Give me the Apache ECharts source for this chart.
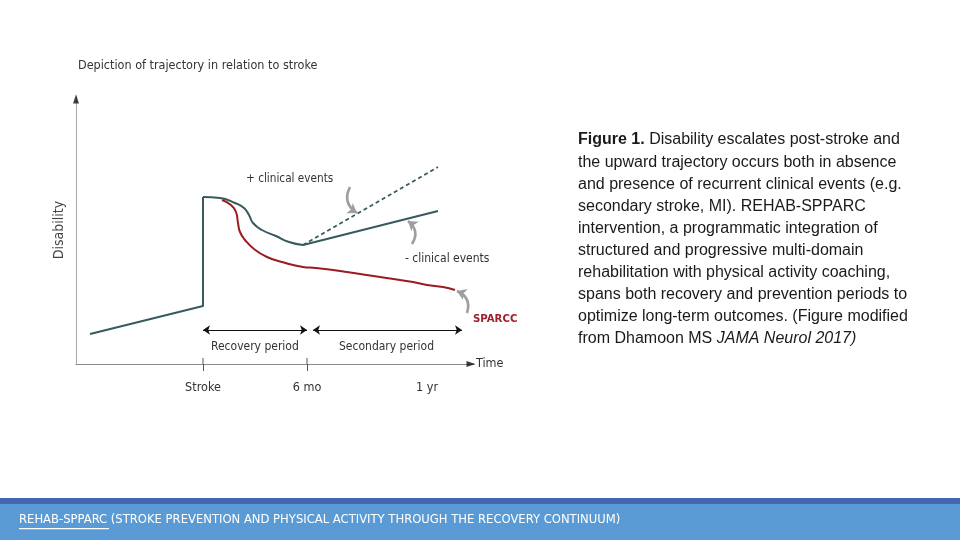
<!DOCTYPE html>
<html>
<head>
<meta charset="utf-8">
<script src="https://cdn.jsdelivr.net/npm/echarts@6/dist/echarts.min.js"></script>
<style>
html,body{margin:0;padding:0;background:#fff;}
#chart{width:960px;height:540px;}
</style>
</head>
<body>
<div id="chart"></div>
<script>
// ---- Data (x: time units, y: disability units) ----
var preStroke = [[14, 30], [127, 58], [127, 167]];
var postStrokeCurve = [[127, 167], [144, 166], [159, 161], [168, 156], [173, 149], [177, 141], [186, 134], [200, 128], [213, 122], [227, 119]];
var noEventsLine = [[227, 119], [362, 153]];
var eventsLine = [[227, 119], [362, 197]];
var sparccCurve = [[146, 164], [155, 159], [160, 152], [162, 141], [164, 132], [169, 124], [178, 115], [191, 107], [206, 102], [227, 97], [240, 96], [271, 92], [304, 87], [337, 82], [351, 79], [367, 77], [379, 74]];
var tickValues = [127, 231];
var tickLabelValues = [127, 231, 351];
var tickLabels = ['Stroke', '6 mo', '1 yr'];
var periodArrows = [
  { name: 'Recovery period', from: [127, 34], to: [231, 34] },
  { name: 'Secondary period', from: [237, 34], to: [386, 34] }
];
var pointerArrows = [
  { from: [274, 177], to: [281, 151], curve: -0.45 },
  { from: [336, 120], to: [332, 143], curve: -0.45 },
  { from: [391, 51], to: [381, 73], curve: -0.45 }
];

var TEAL = '#37595f';
var RED = '#9b1b1f';
var NARROW = '"DejaVu Sans Condensed", "Liberation Sans Narrow", sans-serif';

var tickSegments = [];
tickValues.forEach(function (v) { tickSegments.push([v, 0], [v, 6], null); });

var chart = echarts.init(document.getElementById('chart'), null, { renderer: 'canvas' });

var option = {
  animation: false,
  backgroundColor: '#ffffff',
  grid: { left: 76, top: 96, width: 398, height: 268, containLabel: false },
  xAxis: {
    type: 'value', min: 0, max: 398,
    name: 'Time', nameLocation: 'end', nameGap: 2,
    nameTextStyle: { fontFamily: NARROW, fontSize: 12.5, color: '#333', verticalAlign: 'middle', align: 'left' },
    axisLine: { show: true, lineStyle: { color: '#8a8a8a', width: 1 }, symbol: ['none', 'none'] },
    axisTick: { show: true, length: 7, lineStyle: { color: '#555' }, customValues: tickValues },
    axisLabel: {
      show: true, margin: 17, customValues: tickLabelValues,
      fontFamily: NARROW, fontSize: 12.5, color: '#333',
      formatter: function (v) { var i = tickLabelValues.indexOf(v); return i >= 0 ? tickLabels[i] : ''; }
    },
    splitLine: { show: false }
  },
  yAxis: {
    type: 'value', min: 0, max: 268,
    name: 'Disability', nameLocation: 'middle', nameGap: 10, nameRotate: 90,
    nameTextStyle: { fontFamily: NARROW, fontSize: 14, color: '#444' },
    axisLine: { show: true, lineStyle: { color: '#a8a8a8', width: 1 }, symbol: ['none', 'none'] },
    axisTick: { show: false }, axisLabel: { show: false }, splitLine: { show: false }
  },
  series: [
    { type: 'line', name: 'pre', data: preStroke, showSymbol: false, lineStyle: { color: TEAL, width: 2 }, silent: true },
    { type: 'line', name: 'curve', data: postStrokeCurve, smooth: 0.5, showSymbol: false, lineStyle: { color: TEAL, width: 2 }, silent: true },
    { type: 'line', name: '- clinical events', data: noEventsLine, showSymbol: false, lineStyle: { color: TEAL, width: 2 }, silent: true },
    { type: 'line', name: '+ clinical events', data: eventsLine, showSymbol: false, lineStyle: { color: TEAL, width: 1.8, type: [4, 3] }, silent: true },
    { type: 'line', name: 'SPARCC', data: sparccCurve, smooth: 0.5, showSymbol: false, lineStyle: { color: RED, width: 2 }, silent: true },
    { type: 'line', name: 'ticksUp', data: tickSegments, connectNulls: false, showSymbol: false, lineStyle: { color: '#555', width: 1 }, silent: true },
    {
      type: 'scatter', name: 'axisArrows', clip: false, silent: true,
      itemStyle: { color: '#111' },
      data: [
        { value: [0, 265], symbol: 'triangle', symbolSize: [6, 9], symbolRotate: 0 },
        { value: [395, 0], symbol: 'triangle', symbolSize: [6, 9], symbolRotate: -90 }
      ]
    },
    {
      type: 'lines', coordinateSystem: 'cartesian2d', silent: true,
      symbol: ['arrow', 'arrow'], symbolSize: 7,
      lineStyle: { color: '#111', width: 1, curveness: 0, opacity: 1 },
      data: periodArrows.map(function (a) { return { coords: [a.from, a.to] }; })
    },
    {
      type: 'lines', coordinateSystem: 'cartesian2d', silent: true,
      symbol: ['none', 'arrow'], symbolSize: 9,
      lineStyle: { color: '#9e9e9e', width: 2.6, opacity: 1 },
      data: pointerArrows.map(function (a) { return { coords: [a.from, a.to], lineStyle: { curveness: a.curve } }; })
    }
  ],
  graphic: [
    { type: 'text', left: 78, top: 59, style: { text: 'Depiction of trajectory in relation to stroke', font: '12.5px ' + NARROW, fill: '#333' } },
    { type: 'text', left: 246, top: 173, style: { text: '+ clinical events', font: '11.7px ' + NARROW, fill: '#333' } },
    { type: 'text', left: 405, top: 253, style: { text: '- clinical events', font: '12px ' + NARROW, fill: '#333' } },
    { type: 'text', left: 473, top: 314, style: { text: 'SPARCC', font: 'bold 11.3px ' + NARROW, fill: '#a02030' } },
    { type: 'text', left: 211, top: 341, style: { text: periodArrows[0].name, font: '12px ' + NARROW, fill: '#333' } },
    { type: 'text', left: 339, top: 341, style: { text: periodArrows[1].name, font: '12px ' + NARROW, fill: '#333' } },
    {
      type: 'text', left: 578, top: 129,
      style: {
        text: '{b|Figure 1.} Disability escalates post-stroke and\n' +
              'the upward trajectory occurs both in absence\n' +
              'and presence of recurrent clinical events (e.g.\n' +
              'secondary stroke, MI). REHAB-SPPARC\n' +
              'intervention, a programmatic integration of\n' +
              'structured and progressive multi-domain\n' +
              'rehabilitation with physical activity coaching,\n' +
              'spans both recovery and prevention periods to\n' +
              'optimize long-term outcomes. (Figure modified\n' +
              'from Dhamoon MS {i|JAMA Neurol 2017)}',
        font: '16px "Liberation Sans", Arial, sans-serif',
        fill: '#1a1a1a', lineHeight: 22.1,
        rich: {
          b: { fontWeight: 'bold', fontFamily: '"Liberation Sans", Arial, sans-serif', fontSize: 16, fill: '#1a1a1a', lineHeight: 22.1 },
          i: { fontStyle: 'italic', fontFamily: '"Liberation Sans", Arial, sans-serif', fontSize: 16, fill: '#1a1a1a', lineHeight: 22.1 }
        }
      }
    },
    { type: 'rect', left: 0, top: 498, shape: { width: 960, height: 6 }, style: { fill: '#4467b0' } },
    { type: 'rect', left: 0, top: 504, shape: { width: 960, height: 36 }, style: { fill: '#5b9bd5' } },
    {
      type: 'text', left: 19, top: 513,
      style: {
        text: 'REHAB-SPPARC (STROKE PREVENTION AND PHYSICAL ACTIVITY THROUGH THE RECOVERY CONTINUUM)',
        font: '12.9px ' + NARROW, fill: '#ffffff'
      }
    },
    { type: 'rect', left: 19, top: 528, shape: { width: 90, height: 1.3 }, style: { fill: '#ffffff' } }
  ]
};
chart.setOption(option);
</script>
</body>
</html>
